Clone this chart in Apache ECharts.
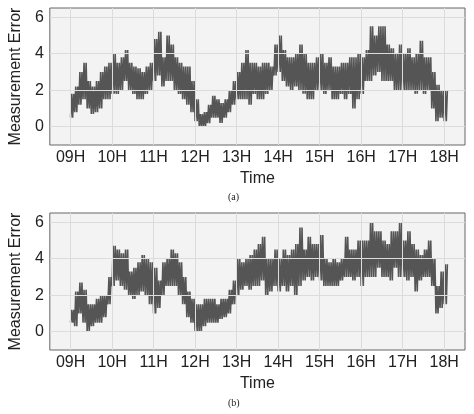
<!DOCTYPE html>
<html>
<head>
<meta charset="utf-8">
<script src="https://cdn.jsdelivr.net/npm/echarts@6/dist/echarts.min.js"></script>
<style>html,body{margin:0;padding:0;background:#fff}#chart{width:474px;height:414px}</style>
</head>
<body>
<div id="chart"></div>
<script>
// readings every 0.1 h from 09H to 18H: lower and upper envelope of the noisy trace
const hourTicks = [9, 10, 11, 12, 13, 14, 15, 16, 17, 18];
const yTicks = [0, 2, 4, 6];

const lowA = [0.5,0.8,1.2,1.5,1.0,0.7,0.8,1.0,1.5,1.5, 1.8,1.8,2.0,2.5,2.0,1.8,1.5,1.5,1.8,2.0,
  2.5,2.8,2.2,2.5,2.5,2.0,1.8,1.5,1.2,0.8, 0.3,0.0,0.0,0.2,0.5,0.5,0.2,0.5,0.8,1.2,
  1.5,1.5,1.5,1.2,1.8,1.5,1.5,1.8,2.0,2.8, 3.0,2.5,2.2,2.0,2.2,2.0,1.8,1.5,1.5,2.0,
  2.0,1.8,2.0,1.5,1.5,1.8,1.5,1.8,1.0,1.5, 1.8,2.5,2.5,2.8,3.0,2.5,2.5,2.5,2.0,2.0,
  2.0,2.0,2.0,1.8,2.0,1.8,2.0,1.0,0.3,0.5, 0.3];
const highA = [1.8,2.2,3.0,3.5,2.5,2.2,2.5,3.0,3.3,3.5, 4.0,3.5,3.8,4.2,3.5,3.3,3.2,3.0,3.3,3.5,
  4.8,5.2,3.8,5.0,4.5,3.8,3.5,3.3,3.3,2.5, 1.5,0.7,0.8,1.2,1.7,1.5,1.3,1.5,2.0,2.5,
  3.0,3.5,4.2,3.5,3.5,3.3,3.5,3.5,3.3,4.5, 5.0,4.2,3.8,3.8,4.0,4.5,4.0,3.5,3.5,3.8,
  4.0,3.5,3.8,3.3,3.3,3.5,3.5,3.8,3.8,4.0, 3.8,4.2,5.5,5.0,5.5,5.5,4.5,4.3,4.0,4.5,
  4.0,4.3,3.8,4.0,4.7,3.8,3.8,3.0,2.3,2.0, 2.0];
const lowB = [0.5,0.3,1.0,0.5,0.0,0.3,0.5,0.5,0.8,1.5, 2.5,2.8,2.5,2.3,2.0,1.8,2.0,2.2,2.0,1.5,
  1.0,1.3,2.0,2.5,2.5,2.5,2.0,1.5,0.8,0.5, 0.0,0.0,0.3,0.5,0.5,0.5,0.7,0.8,1.0,1.5,
  2.0,2.3,2.5,2.3,2.5,2.5,2.8,2.0,2.2,2.5, 2.2,2.5,2.2,2.5,2.0,2.5,2.8,3.0,2.8,3.0,
  2.8,2.5,2.5,2.5,2.5,2.8,3.0,3.0,2.8,3.0, 2.5,3.0,3.0,3.0,3.5,3.0,3.0,2.8,3.5,3.0,
  3.0,2.8,3.0,2.2,2.8,3.0,3.0,2.5,1.0,1.3, 1.5];
const highB = [1.2,2.2,2.7,2.3,1.5,1.5,1.8,2.0,2.0,3.0, 4.7,4.5,4.3,4.5,3.3,3.5,3.8,4.2,4.0,3.8,
  3.5,2.8,3.8,4.0,4.5,4.3,3.8,3.0,2.2,1.8, 1.5,1.5,1.8,1.8,1.8,1.5,1.8,1.8,2.3,2.8,
  4.0,3.8,4.0,4.2,4.5,4.8,5.2,4.0,4.0,4.5, 4.0,4.5,4.2,4.5,4.8,5.7,4.5,5.2,4.8,4.8,
  5.3,4.0,3.8,4.0,3.8,4.0,5.2,4.5,4.5,5.0, 5.0,5.0,6.0,5.5,5.5,5.0,4.8,5.5,5.5,6.0,
  5.0,5.5,4.8,4.5,4.2,4.5,5.0,4.0,2.5,3.3, 3.7];

function trace(low, high) {
  const pts = [];
  for (let i = 0; i < low.length; i++) {
    const t = 9 + i * 0.1;
    pts.push([t, low[i]], [t + 0.025, high[i]], [t + 0.05, low[i]], [t + 0.075, high[i]]);
  }
  return pts;
}

const chart = echarts.init(document.getElementById('chart'));
const font = 'Liberation Sans, Arial, sans-serif';
const tops = [8, 213];
const panels = [[lowA, highA], [lowB, highB]];

const option = {
  animation: false,
  grid: tops.map(t => ({left: 42, top: t, width: 423, height: 137, show: true,
    backgroundColor: '#f3f3f3', borderColor: '#666', borderWidth: 1})),
  xAxis: tops.map((t, i) => ({
    type: 'value', gridIndex: i, min: 8.55, max: 18.5, interval: 0.5,
    name: 'Time', nameLocation: 'middle', nameGap: 26,
    nameTextStyle: {fontFamily: font, fontSize: 16, color: '#222'},
    axisLine: {show: false}, axisTick: {show: false}, splitLine: {show: false},
    axisLabel: {fontFamily: font, fontSize: 16, color: '#222', margin: 5,
      formatter: v => hourTicks.includes(v) ? String(v).padStart(2, '0') + 'H' : ''}
  })),
  yAxis: tops.map((t, i) => ({
    type: 'value', gridIndex: i, min: -1, max: 6.5, interval: 0.5,
    name: 'Measurement Error', nameLocation: 'middle', nameGap: 20,
    nameTextStyle: {fontFamily: font, fontSize: 16, color: '#222'},
    axisLine: {show: false}, axisTick: {show: false}, splitLine: {show: false},
    axisLabel: {fontFamily: font, fontSize: 16, color: '#222', margin: 6,
      formatter: v => yTicks.includes(v) ? String(v) : ''}
  })),
  series: []
};
// x min must sit on the interval
option.xAxis.forEach(a => { a.min = 8.5; });

panels.forEach((p, i) => {
  option.series.push({
    type: 'line', xAxisIndex: i, yAxisIndex: i, data: [], z: 1, silent: true,
    markLine: {silent: true, symbol: 'none', label: {show: false},
      lineStyle: {color: '#dcdcdc', width: 1, type: 'solid'},
      data: hourTicks.map(h => ({xAxis: h})).concat(yTicks.map(v => ({yAxis: v})))}
  });
  option.series.push({
    type: 'line', xAxisIndex: i, yAxisIndex: i, data: trace(p[0], p[1]), z: 3,
    showSymbol: false, lineStyle: {color: '#555', width: 1.6}
  });
});

option.graphic = [
  {type: 'text', left: 228, top: 192, style: {text: '(a)', font: '10px "Liberation Serif", serif', fill: '#222'}},
  {type: 'text', left: 228, top: 398, style: {text: '(b)', font: '10px "Liberation Serif", serif', fill: '#222'}}
];

chart.setOption(option);
</script>
</body>
</html>
